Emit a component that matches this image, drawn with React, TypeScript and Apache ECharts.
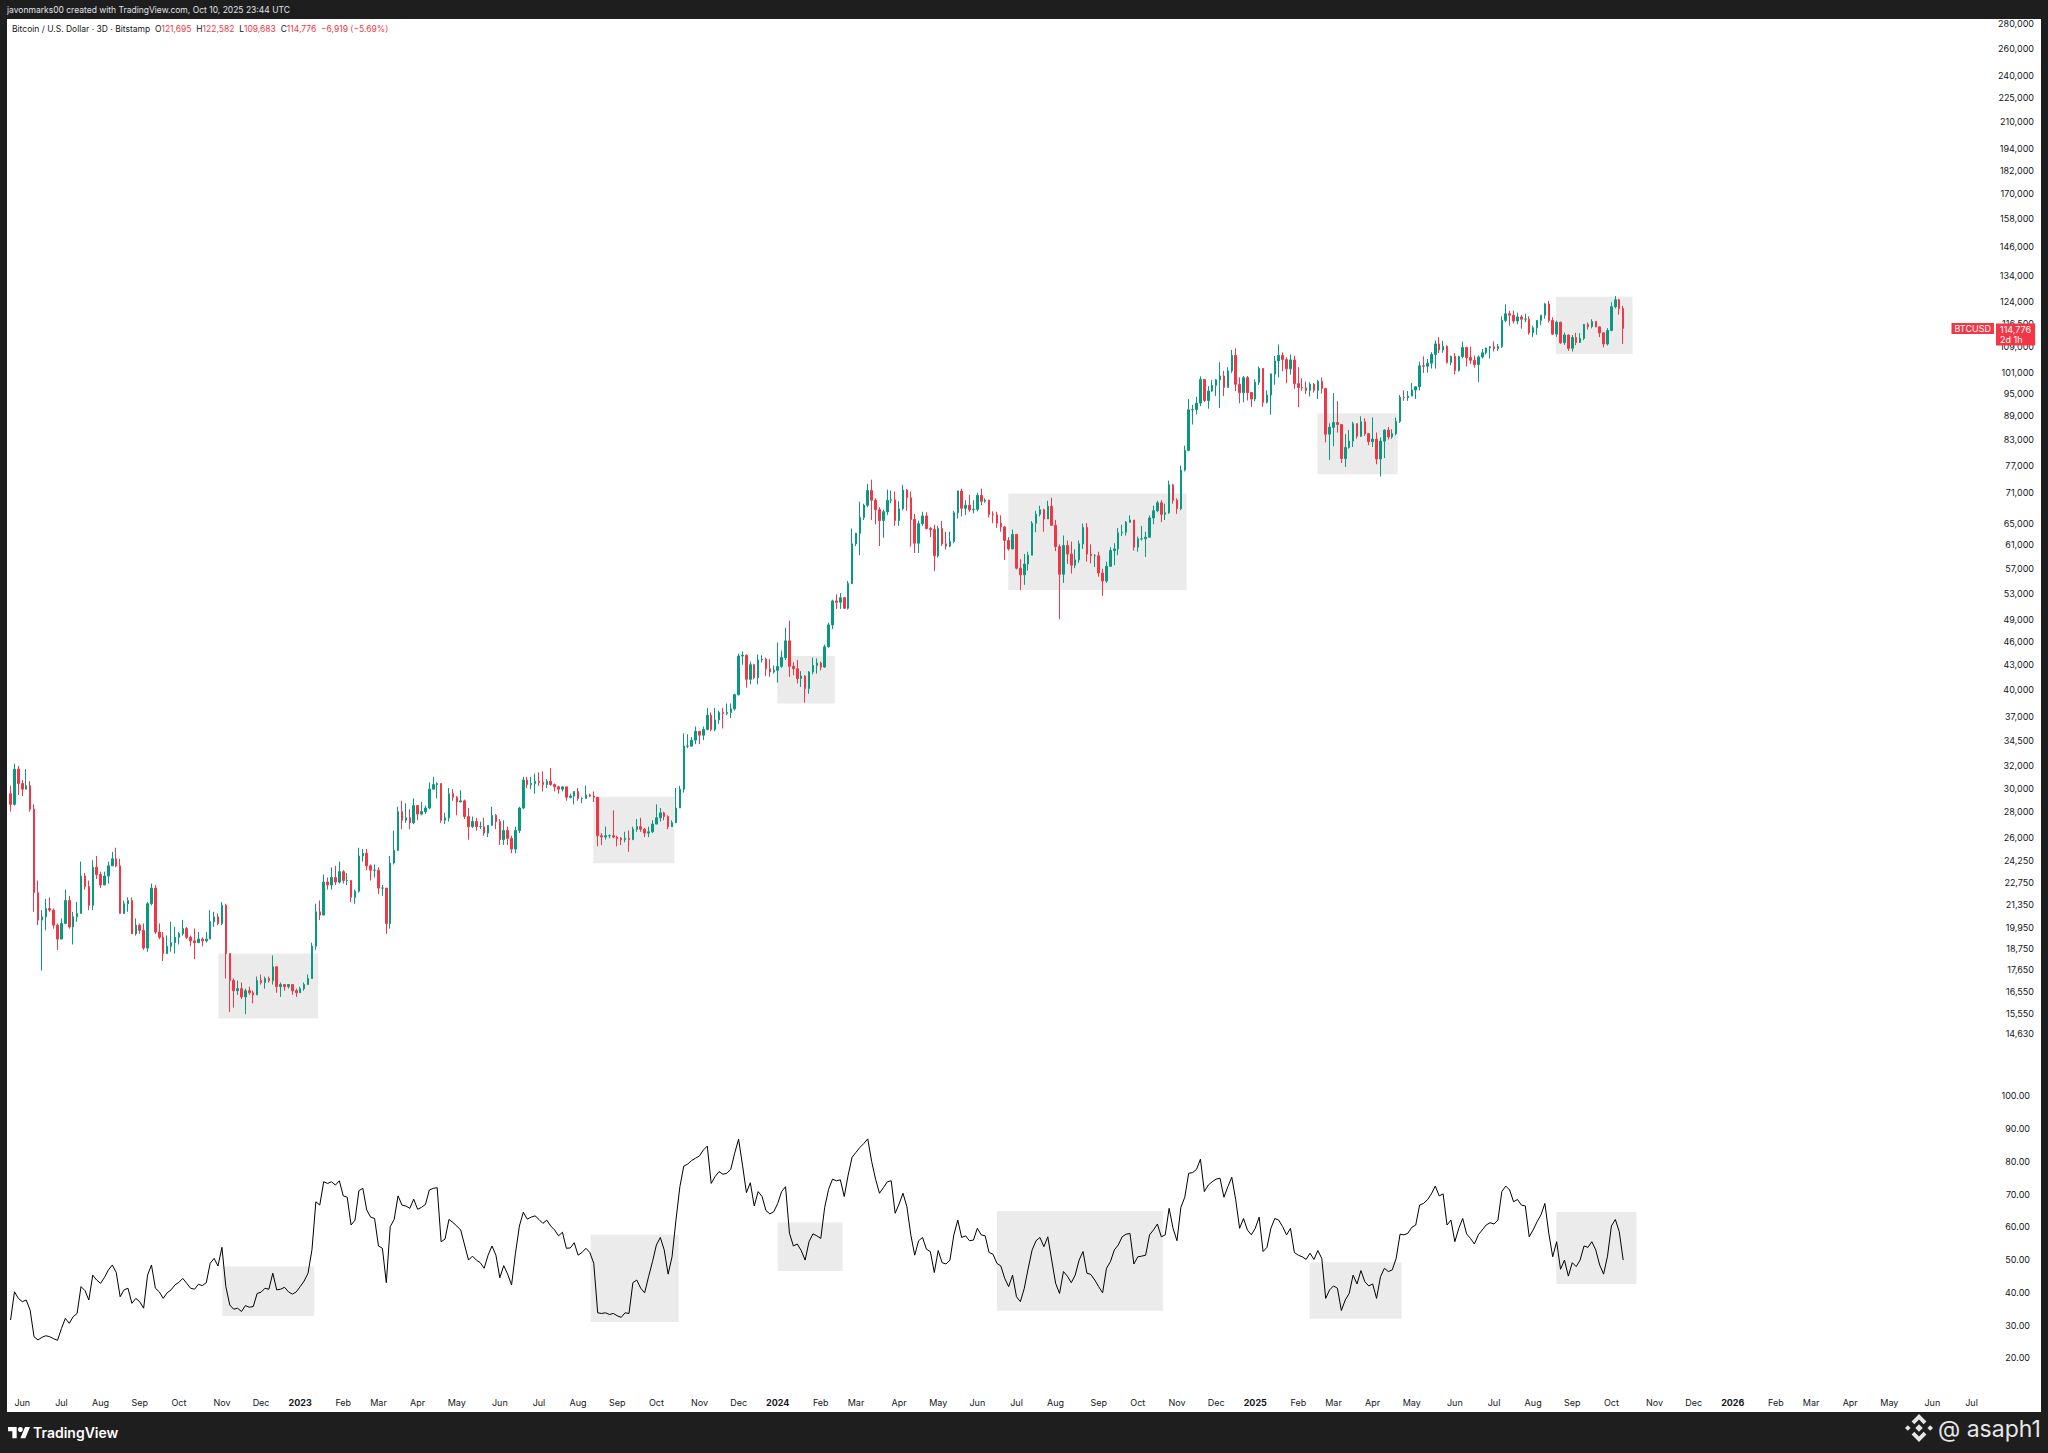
import React, { useEffect, useRef } from 'react';
import * as echarts from 'echarts';

const FONT = 'Inter, Roboto, "Noto Sans", sans-serif';
const UP = '#089981';
const DOWN = '#f23645';
const TEXT = '#131722';

echarts.graphic.registerShape(
  'tvlogo',
  echarts.graphic.extendPath('M14 22H7V11H0V4h14v18zM28 22h-8l7.5-18h8L28 22z', {})
);

// ---- data (prices in thousand USD, one bar = 3 days, bar 0 = 3 Jun 2022) ----
const FIRST_BAR = -3;
const FIRST_OPEN = 29.5;

// [close, high, low]
const bars2022 = [
  [28.6, 30.2, 28.0], [31.7, 32.2, 28.5], [30.4, 32.0, 29.4], [29.9, 30.7, 29.3], [30.2, 31.7, 29.9],
  [28.2, 30.6, 28.0], [22.1, 28.6, 20.9], [20.4, 22.9, 20.1], [20.6, 21.0, 17.6], [21.1, 21.7, 19.8],
  [21.0, 21.8, 20.9], [20.1, 21.1, 19.9], [19.3, 20.2, 18.7], [20.2, 20.5, 19.3], [21.6, 22.3, 20.2],
  [20.0, 21.9, 19.9], [20.6, 20.9, 19.0], [20.8, 21.5, 20.3], [23.2, 24.2, 20.8], [22.5, 23.4, 22.3],
  [21.3, 22.9, 21.0], [23.8, 24.3, 21.0], [23.3, 24.6, 23.0], [22.6, 23.5, 22.4], [23.2, 23.5, 22.6],
  [23.9, 24.2, 22.7], [24.4, 24.9, 23.9], [23.9, 25.2, 23.8], [20.8, 24.4, 20.8], [21.4, 21.6, 20.8],
  [21.6, 21.8, 20.9], [19.6, 21.8, 19.6], [20.1, 20.5, 19.5], [19.8, 20.2, 19.6], [18.8, 20.2, 18.7],
  [21.4, 21.5, 18.6], [22.4, 22.7, 21.3], [19.7, 22.6, 19.6], [19.4, 20.2, 19.3], [18.5, 19.7, 18.1],
  [18.9, 19.5, 18.5], [19.1, 20.3, 18.6], [19.4, 20.0, 18.5], [19.6, 19.7, 19.0], [19.9, 20.4, 19.5],
  [19.4, 20.0, 19.3], [19.2, 19.5, 18.9], [19.1, 19.9, 18.2], [19.3, 19.7, 19.1], [19.2, 19.4, 18.9],
  [19.3, 19.7, 19.1], [20.3, 21.0, 19.3], [20.6, 20.9, 20.0], [20.2, 20.8, 20.1], [21.3, 21.5, 20.1],
  [18.5, 21.4, 17.2], [17.1, 18.5, 15.6], [16.6, 17.2, 15.8], [16.7, 17.1, 16.4], [16.3, 17.0, 16.2],
  [16.6, 16.7, 15.5], [16.5, 16.8, 16.4], [16.4, 16.6, 16.0], [17.1, 17.3, 16.4], [17.0, 17.4, 16.9],
  [17.2, 17.3, 16.7], [17.1, 17.3, 17.0], [17.8, 18.4, 16.9], [16.8, 17.8, 16.5], [16.9, 17.0, 16.3],
  [16.8, 16.9, 16.6], [16.9, 16.9, 16.7], [16.6, 16.9, 16.4], [16.5, 16.7, 16.3],
];

const bars2023 = [
  [16.7, 16.8, 16.5], [16.9, 17.0, 16.6], [17.2, 17.4, 16.9], [18.9, 19.1, 17.2], [20.9, 21.4, 18.7],
  [20.7, 21.6, 20.4], [22.8, 23.3, 20.7], [22.6, 23.1, 22.3], [23.1, 23.8, 22.3], [22.8, 23.9, 22.6],
  [23.5, 24.2, 22.7], [22.9, 23.6, 22.7], [22.9, 23.4, 22.6], [21.8, 22.9, 21.5], [22.2, 22.3, 21.4],
  [24.6, 25.2, 22.1], [24.8, 25.1, 24.2], [23.9, 25.1, 23.6], [23.6, 24.0, 22.9], [23.6, 24.0, 23.1],
  [22.4, 23.8, 22.0], [22.4, 22.6, 21.9], [20.2, 22.4, 19.6], [24.1, 24.6, 19.9], [25.0, 26.5, 24.0],
  [28.0, 28.4, 25.0], [27.3, 28.9, 26.6], [27.5, 28.7, 27.1], [27.1, 28.2, 26.6], [28.5, 29.1, 27.0],
  [27.8, 28.5, 27.3], [28.0, 28.8, 27.7], [28.3, 28.5, 27.8], [29.9, 30.5, 28.2], [30.3, 31.0, 29.9],
  [30.4, 30.5, 29.1], [27.3, 30.4, 27.1], [27.5, 27.9, 27.0], [29.5, 30.0, 27.2], [29.2, 29.9, 28.9],
  [28.8, 29.3, 27.7], [28.9, 29.8, 28.8], [27.6, 29.0, 27.4], [26.8, 28.3, 25.8], [27.2, 27.6, 26.7],
  [26.8, 27.5, 26.5], [26.8, 27.2, 26.6], [26.3, 27.5, 26.1], [26.9, 26.9, 26.0], [27.7, 28.4, 26.9],
  [27.2, 27.8, 26.6], [25.8, 27.4, 25.4], [26.5, 27.3, 25.4], [25.9, 26.8, 25.4], [25.1, 26.1, 24.8],
  [26.5, 26.8, 24.8], [28.3, 28.4, 26.3], [30.7, 31.0, 28.2], [30.3, 31.0, 30.0], [30.4, 31.0, 29.9],
  [30.6, 31.3, 29.5], [30.5, 31.4, 30.2], [30.3, 31.5, 29.7], [30.6, 30.8, 30.0], [30.3, 31.8, 30.2],
  [30.1, 30.4, 29.7], [29.9, 30.2, 29.5], [30.1, 30.1, 29.7], [29.2, 30.1, 28.9], [29.3, 29.5, 29.1],
  [29.7, 29.7, 28.6], [29.1, 30.0, 28.9], [29.1, 29.2, 28.7], [29.4, 30.2, 29.1], [29.3, 29.5, 29.2],
  [29.2, 29.7, 28.8], [26.1, 29.2, 25.3], [26.0, 26.3, 25.4], [26.1, 26.8, 25.8], [26.1, 26.2, 25.9],
  [26.0, 28.1, 25.9], [25.9, 26.1, 25.3], [25.8, 26.0, 25.4], [25.9, 26.4, 25.6], [25.8, 26.5, 24.9],
  [26.6, 26.8, 25.8], [26.8, 27.4, 26.4], [26.6, 27.5, 26.4], [26.3, 26.7, 26.0], [26.4, 26.8, 26.0],
  [27.0, 27.3, 26.3], [27.5, 28.6, 27.0], [27.9, 28.3, 27.2], [27.6, 28.0, 27.3], [26.8, 27.7, 26.6],
  [27.1, 27.3, 26.8], [28.3, 30.0, 27.1], [29.9, 30.2, 28.3], [33.9, 35.2, 29.6], [33.9, 35.1, 33.7],
  [34.5, 34.8, 33.9], [35.4, 35.9, 34.1], [35.0, 35.4, 34.1], [35.6, 35.9, 34.5], [37.1, 37.9, 35.5],
  [35.6, 37.4, 35.4], [36.6, 37.9, 35.4], [37.4, 37.6, 36.2], [37.3, 37.9, 35.7], [37.4, 38.4, 37.1],
  [37.8, 38.4, 36.8], [39.4, 39.5, 37.6], [44.1, 44.4, 39.3], [44.2, 44.7, 43.0], [41.2, 44.3, 40.2],
  [43.0, 43.4, 40.6], [41.4, 43.1, 41.2], [43.6, 44.3, 40.6], [43.7, 44.2, 43.3], [42.5, 43.9, 41.6],
  [42.1, 43.7, 41.5], [42.3, 42.9, 41.9],
];

const bars2024 = [
  [42.8, 45.9, 40.8], [43.9, 44.8, 42.6], [46.1, 47.9, 43.6], [42.8, 48.9, 41.5], [42.5, 43.3, 41.7],
  [41.3, 43.6, 40.7], [41.6, 42.2, 40.3], [40.1, 41.7, 38.5], [42.1, 42.2, 39.5], [42.9, 43.9, 41.8],
  [43.2, 43.8, 41.9], [42.7, 43.4, 42.3], [45.3, 45.6, 42.6], [48.3, 48.6, 45.2], [51.8, 52.0, 47.7],
  [51.6, 52.8, 50.6], [52.3, 53.0, 50.6], [50.7, 52.4, 50.6], [54.5, 54.9, 50.5], [61.2, 64.0, 54.4],
  [63.1, 63.2, 60.8], [66.1, 69.2, 59.2], [68.5, 68.8, 65.6], [71.5, 72.9, 68.1], [69.5, 73.8, 65.6],
  [67.6, 69.9, 64.8], [65.5, 68.1, 60.8], [67.2, 67.6, 62.3], [69.5, 71.7, 66.6], [69.6, 71.5, 68.9],
  [65.5, 71.3, 64.5], [67.8, 69.3, 64.5], [71.6, 72.7, 67.5], [70.0, 71.8, 67.4], [65.7, 71.3, 60.7],
  [61.3, 66.8, 59.6], [64.9, 65.5, 59.6], [66.4, 67.2, 64.5], [64.0, 67.1, 63.8], [63.8, 64.3, 62.4],
  [59.1, 64.7, 56.5], [64.0, 64.5, 58.8], [61.2, 65.4, 60.8], [60.8, 63.4, 60.2], [61.6, 63.4, 60.6],
  [67.0, 67.4, 61.3], [71.4, 71.5, 65.9], [67.9, 71.9, 66.3], [68.5, 69.5, 66.6], [67.6, 70.6, 67.2],
  [67.7, 69.5, 66.9], [70.5, 71.0, 67.3], [69.3, 71.9, 68.5], [69.5, 69.9, 69.0], [66.7, 69.6, 66.1],
  [66.6, 67.3, 65.0], [65.0, 67.2, 64.1], [64.3, 66.5, 63.4], [61.8, 64.5, 58.4], [60.3, 62.4, 60.0],
  [62.9, 63.8, 60.3], [57.0, 63.0, 56.8], [55.9, 58.5, 53.5], [57.7, 59.4, 54.3], [59.2, 59.8, 56.6],
  [65.0, 65.4, 59.2], [66.7, 67.4, 63.3], [67.6, 68.4, 66.3], [65.8, 67.8, 63.4], [68.3, 69.4, 65.8],
  [64.6, 70.0, 64.5], [60.7, 65.6, 59.9], [56.0, 61.1, 49.1], [60.9, 62.7, 54.6], [59.4, 61.8, 57.7],
  [57.5, 61.6, 56.1], [58.4, 60.2, 57.0], [61.2, 61.8, 57.9], [64.2, 64.9, 60.3], [59.4, 65.0, 58.1],
  [59.1, 61.1, 57.8], [59.1, 59.4, 57.2], [56.2, 59.8, 55.6], [54.9, 56.9, 52.6], [57.3, 58.1, 54.6],
  [60.0, 60.6, 57.4], [60.3, 61.3, 57.5], [63.2, 64.1, 59.2], [63.3, 64.7, 62.6], [65.2, 65.4, 62.7],
  [65.6, 66.5, 65.1], [60.6, 65.6, 60.0], [62.1, 62.5, 59.8], [62.1, 64.5, 61.8], [62.4, 63.4, 58.9],
  [66.0, 66.5, 62.3], [67.4, 68.4, 64.8], [69.0, 69.4, 67.1], [66.7, 69.5, 65.2], [67.0, 68.8, 65.6],
  [72.7, 73.6, 66.8], [69.5, 72.9, 68.8], [67.8, 69.9, 66.8], [75.9, 76.9, 67.5], [80.4, 81.5, 75.6],
  [90.5, 93.4, 80.2], [90.6, 91.8, 86.7], [92.3, 94.0, 89.3], [98.9, 99.8, 91.5], [93.0, 98.9, 92.6],
  [95.6, 97.0, 90.8], [97.2, 98.7, 95.4], [98.8, 99.0, 94.2], [99.9, 104.0, 91.0], [96.6, 101.4, 94.2],
  [101.4, 102.5, 96.6], [106.1, 107.8, 100.8], [97.5, 108.3, 95.6], [95.1, 99.5, 92.2], [99.4, 99.9, 92.5],
  [95.2, 99.9, 93.0], [93.4, 95.3, 91.3],
];

const bars2025 = [
  [98.1, 98.9, 92.8], [102.1, 102.7, 97.3], [92.5, 102.2, 91.3], [94.5, 95.8, 92.2], [100.5, 100.7, 89.2],
  [104.4, 105.9, 97.4], [106.1, 109.5, 99.5], [104.8, 107.0, 101.3], [102.0, 105.5, 97.8], [104.7, 106.4, 100.3],
  [97.7, 106.0, 96.2], [96.6, 102.5, 91.2], [96.5, 99.2, 95.7], [95.8, 98.3, 94.8], [97.5, 98.1, 94.1],
  [95.8, 97.9, 95.2], [98.3, 98.8, 93.4], [96.3, 99.5, 94.9], [84.3, 96.5, 82.3], [86.0, 87.0, 78.2],
  [87.2, 95.0, 81.4], [86.7, 92.8, 84.7], [78.5, 86.8, 77.5], [81.1, 84.3, 76.6], [82.6, 85.3, 80.8],
  [86.9, 87.4, 81.2], [83.8, 87.0, 83.2], [87.4, 88.8, 83.6], [84.4, 88.3, 83.9], [82.5, 84.6, 81.6],
  [83.1, 88.5, 81.2], [78.4, 84.7, 77.2], [82.6, 83.5, 74.5], [85.3, 85.5, 78.6], [83.6, 86.1, 83.0],
  [84.4, 85.5, 83.2], [87.5, 88.5, 84.0], [93.9, 94.5, 87.1], [93.8, 95.8, 92.9], [94.2, 95.6, 92.9],
  [95.9, 97.9, 94.2], [96.8, 96.9, 93.4], [102.9, 104.1, 95.8], [102.8, 105.8, 100.8], [103.7, 105.0, 100.9],
  [106.4, 107.1, 102.1], [109.7, 110.8, 102.1], [107.8, 111.9, 106.8], [108.9, 110.7, 106.9], [103.9, 109.3, 103.6],
  [105.8, 106.0, 103.1], [101.5, 106.8, 100.4], [105.7, 106.0, 101.2], [108.6, 110.4, 105.2], [105.4, 108.8, 102.7],
  [104.6, 108.9, 103.5], [103.3, 106.0, 102.4], [105.6, 106.1, 98.2], [106.9, 108.1, 105.1], [108.4, 108.5, 106.4],
  [108.8, 109.0, 105.1], [108.2, 110.5, 107.3], [108.9, 109.7, 107.5], [117.5, 118.9, 108.4], [119.8, 123.2, 116.9],
  [119.3, 120.8, 115.7], [117.3, 120.9, 116.5], [118.7, 120.2, 116.2], [117.9, 119.4, 114.7], [117.9, 119.8, 116.9],
  [113.3, 118.9, 112.7], [115.0, 115.7, 111.9], [117.5, 117.6, 112.7], [119.3, 119.3, 115.9], [123.3, 123.7, 118.1],
  [117.5, 124.4, 116.8], [112.9, 118.6, 112.6], [116.9, 117.4, 112.0], [110.1, 117.0, 109.7], [112.6, 113.4, 109.4],
  [108.3, 112.7, 107.5], [111.8, 112.6, 107.3], [110.2, 113.3, 109.3], [111.5, 113.2, 110.0], [116.1, 116.3, 110.9],
  [115.4, 116.8, 114.4], [117.1, 117.9, 114.8], [115.3, 117.2, 115.2], [113.3, 115.4, 111.9], [109.7, 113.6, 108.6],
  [114.1, 114.9, 109.2], [122.3, 123.9, 113.9], [124.8, 126.2, 121.7], [121.695, 125.1, 119.5], [114.776, 122.582, 109.683],
];

// RSI(14) per bar
const rsi2022 = [
  31.6, 40.2, 38.2, 37.2, 37.7, 34.6, 26.5, 25.5, 26.3, 26.8,
  26.5, 25.9, 25.4, 29.0, 32.1, 30.6, 32.6, 33.6, 41.8, 40.6,
  37.7, 45.3, 43.8, 42.8, 44.6, 46.9, 48.4, 46.1, 38.7, 40.8,
  41.3, 36.7, 38.2, 37.2, 35.2, 45.3, 48.4, 41.3, 40.2, 38.2,
  39.9, 40.8, 42.3, 43.1, 44.3, 42.8, 41.3, 41.0, 42.5, 42.1,
  43.0, 48.9, 50.4, 48.1, 53.8, 41.8, 36.2, 34.9, 35.2, 34.2,
  36.0, 35.5, 35.7, 39.7, 40.1, 41.3, 41.0, 45.9, 40.8, 41.0,
  41.6, 40.2, 39.5, 40.2,
];
const rsi2023 = [
  41.8, 43.5, 45.9, 53.0, 67.7, 66.7, 73.8, 73.3, 73.8, 72.8,
  74.1, 69.5, 69.1, 60.6, 62.1, 71.1, 71.8, 65.2, 63.0, 62.6,
  54.2, 53.5, 43.0, 60.1, 62.3, 69.5, 66.7, 66.4, 65.7, 68.5,
  65.4, 66.0, 66.9, 71.3, 71.8, 72.0, 55.5, 56.3, 62.3, 61.4,
  60.3, 59.1, 54.5, 49.9, 51.1, 49.9, 49.1, 47.4, 51.4, 54.2,
  51.4, 44.5, 48.2, 45.6, 42.3, 52.0, 60.3, 64.5, 62.4, 63.0,
  63.4, 62.3, 61.1, 62.1, 60.3, 59.1, 57.3, 58.4, 53.5, 53.6,
  55.2, 51.4, 52.2, 53.5, 52.2, 48.9, 33.8, 33.6, 33.8, 33.3,
  33.6, 32.9, 32.4, 33.8, 33.6, 43.0, 43.8, 41.3, 39.9, 44.8,
  49.4, 54.5, 56.8, 53.0, 45.6, 50.9, 62.1, 72.3, 78.6, 79.2,
  80.3, 81.0, 81.7, 83.5, 84.7, 73.3, 75.4, 76.9, 76.1, 76.4,
  77.6, 82.5, 86.8, 78.9, 70.5, 73.5, 66.4, 70.8, 69.3, 65.0,
  64.0, 64.7,
];
const rsi2024 = [
  67.2, 70.8, 72.3, 58.1, 54.2, 54.8, 52.8, 49.9, 55.5, 57.9,
  57.3, 56.5, 66.0, 71.5, 74.6, 74.1, 74.4, 69.3, 75.9, 81.3,
  82.8, 84.3, 85.5, 86.9, 80.0, 74.6, 70.3, 72.0, 73.8, 74.1,
  64.2, 67.0, 70.3, 66.2, 57.6, 51.4, 55.8, 56.8, 53.2, 52.5,
  46.1, 52.8, 49.1, 48.7, 49.9, 57.6, 62.1, 56.8, 57.3, 55.8,
  56.0, 59.6, 57.6, 57.3, 52.2, 51.7, 48.9, 48.1, 44.3, 41.8,
  45.3, 38.7, 37.2, 41.3, 47.4, 53.0, 55.8, 56.8, 54.0, 57.0,
  49.9, 42.8, 39.7, 46.4, 45.0, 43.0, 45.3, 49.9, 52.5, 45.9,
  45.5, 43.8, 41.8, 39.9, 47.4, 49.4, 53.0, 54.5, 57.0, 57.8,
  58.0, 48.7, 50.9, 51.1, 51.4, 57.6, 59.1, 60.9, 57.0, 57.6,
  65.7, 59.6, 55.8, 66.0, 69.1, 76.4, 76.6, 77.6, 80.7, 70.8,
  72.8, 73.8, 74.6, 74.9, 69.1, 72.3, 75.2, 68.4, 59.6, 62.6,
  59.1, 57.6,
];
const rsi2025 = [
  59.6, 63.0, 52.5, 53.8, 59.6, 62.6, 62.1, 60.1, 57.6, 59.6,
  52.2, 51.4, 50.9, 50.1, 52.0, 50.1, 52.8, 50.4, 38.2, 40.8,
  42.0, 41.3, 34.5, 37.7, 39.7, 45.3, 42.6, 46.7, 43.3, 42.0,
  42.6, 38.2, 44.8, 47.4, 46.4, 46.9, 50.4, 57.8, 57.6, 58.1,
  59.9, 60.6, 66.7, 67.2, 68.3, 70.1, 72.5, 69.5, 70.1, 60.6,
  62.1, 55.5, 59.6, 62.6, 57.9, 56.5, 54.8, 57.6, 59.1, 60.6,
  61.3, 60.9, 62.1, 70.8, 72.5, 71.3, 67.7, 68.4, 66.7, 66.4,
  57.0, 59.1, 61.6, 63.7, 67.2, 58.1, 50.9, 55.5, 47.1, 49.9,
  45.0, 49.1, 47.9, 49.9, 54.2, 53.8, 55.5, 53.0, 48.4, 45.6,
  51.1, 60.3, 62.3, 58.6, 49.9,
];

// shaded zones: [fromBar, toBar, top, bottom]
const priceBoxes = [
  [50.1, 75.6, 18.51, 15.31],
  [145.9, 166.6, 29.25, 24.08],
  [192.9, 207.6, 44.1, 38.4],
  [251.9, 297.5, 70.9, 53.5],
  [330.9, 351.4, 89.6, 75.0],
  [391.8, 411.4, 125.9, 106.5],
];
const rsiBoxes = [
  [51.1, 74.6, 47.9, 32.8],
  [145.2, 167.7, 57.6, 31.0],
  [193.0, 209.6, 61.4, 46.6],
  [249.0, 291.4, 64.9, 34.4],
  [328.9, 352.4, 49.2, 32.0],
  [391.9, 412.4, 64.6, 42.6],
];

const priceTicks = [
  280, 260, 240, 225, 210, 194, 182, 170, 158, 146, 134, 124, 116.5, 109, 101, 95, 89, 83, 77, 71,
  65, 61, 57, 53, 49, 46, 43, 40, 37, 34.5, 32, 30, 28, 26, 24.25, 22.75, 21.35, 19.95, 18.75,
  17.65, 16.55, 15.55, 14.63,
];
const rsiTicks = [20, 30, 40, 50, 60, 70, 80, 90, 100];

const monthLabels = [
  'Jun', 'Jul', 'Aug', 'Sep', 'Oct', 'Nov', 'Dec',
  '2023', 'Feb', 'Mar', 'Apr', 'May', 'Jun', 'Jul', 'Aug', 'Sep', 'Oct', 'Nov', 'Dec',
  '2024', 'Feb', 'Mar', 'Apr', 'May', 'Jun', 'Jul', 'Aug', 'Sep', 'Oct', 'Nov', 'Dec',
  '2025', 'Feb', 'Mar', 'Apr', 'May', 'Jun', 'Jul', 'Aug', 'Sep', 'Oct', 'Nov', 'Dec',
  '2026', 'Feb', 'Mar', 'Apr', 'May', 'Jun', 'Jul',
];
const monthBars = [
  0, 10, 20, 30, 40, 51, 61,
  71, 82, 91, 101, 111, 122, 132, 142, 152, 162, 173, 183,
  193, 204, 213, 224, 234, 244, 254, 264, 275, 285, 295, 305,
  315, 326, 335, 345, 355, 366, 376, 386, 396, 406, 417, 427,
  437, 448, 457, 467, 477, 488, 498,
];

const LAST_PRICE = 114.776;

const X_MIN = -3.91;
const X_MAX = 504.0;
const Y_MIN = 2.5545;
const Y_MAX = 5.64647;
const RSI_MIN = 10.84;
const RSI_MAX = 104.27;

function buildOption() {
  const bars = [...bars2022, ...bars2023, ...bars2024, ...bars2025];
  const rsi = [...rsi2022, ...rsi2023, ...rsi2024, ...rsi2025];
  let prevClose = FIRST_OPEN;
  const candles = bars.map(([c, h, l], k) => {
    const o = prevClose;
    prevClose = c;
    return [
      FIRST_BAR + k,
      Math.log(o),
      Math.log(c),
      Math.log(Math.min(l, o, c)),
      Math.log(Math.max(h, o, c)),
    ];
  });
  const rsiData = rsi.map((v, k) => [FIRST_BAR + k, v]);
  const labelByBar = new Map<number, string>();
  monthBars.forEach((b, k) => labelByBar.set(b, monthLabels[k]));

  const boxStyle = { color: 'rgba(0,0,0,0.08)' };

  const bx = 1919;
  const by = 1428;
  const bs = 14;
  const bin = (pts: number[][]) => pts.map(([a, b]) => [bx + a * bs, by + b * bs]);
  const binanceParts = [
    [[0, -1], [0.53, -0.47], [0.33, -0.27], [0, -0.6], [-0.33, -0.27], [-0.53, -0.47]],
    [[0, 1], [0.53, 0.47], [0.33, 0.27], [0, 0.6], [-0.33, 0.27], [-0.53, 0.47]],
    [[0, -0.27], [0.27, 0], [0, 0.27], [-0.27, 0]],
    [[-1, 0], [-0.8, -0.2], [-0.6, 0], [-0.8, 0.2]],
    [[1, 0], [0.8, -0.2], [0.6, 0], [0.8, 0.2]],
  ];

  return {
    animation: false,
    backgroundColor: 'transparent',
    textStyle: { fontFamily: FONT },
    grid: [
      { left: 7, top: 19, width: 1988, height: 1059 },
      { left: 7, top: 1082, width: 1988, height: 306 },
    ],
    xAxis: [
      { type: 'value', gridIndex: 0, min: X_MIN, max: X_MAX, show: false },
      {
        type: 'value',
        gridIndex: 1,
        min: X_MIN,
        max: X_MAX,
        axisLine: { show: false },
        axisTick: { show: false },
        splitLine: { show: false },
        axisLabel: {
          customValues: monthBars,
          margin: 10,
          fontSize: 9,
          color: TEXT,
          fontFamily: FONT,
          formatter: (v: number) => {
            const s = labelByBar.get(Math.round(v)) || '';
            return /^\d{4}$/.test(s) ? `{y|${s}}` : s;
          },
          rich: { y: { fontWeight: 'bold', fontSize: 9, color: TEXT, fontFamily: FONT } },
        },
      },
    ],
    yAxis: [
      {
        type: 'value',
        gridIndex: 0,
        position: 'right',
        min: Y_MIN,
        max: Y_MAX,
        axisLine: { show: false },
        axisTick: { show: false },
        splitLine: { show: false },
        axisLabel: {
          customValues: priceTicks.map((p) => Math.log(p)),
          formatter: (v: number) => Math.round(Math.exp(v) * 1000).toLocaleString('en-US'),
          align: 'right',
          margin: 39,
          fontSize: 9,
          color: TEXT,
          fontFamily: FONT,
        },
      },
      {
        type: 'value',
        gridIndex: 1,
        position: 'right',
        min: RSI_MIN,
        max: RSI_MAX,
        axisLine: { show: false },
        axisTick: { show: false },
        splitLine: { show: false },
        axisLabel: {
          customValues: rsiTicks,
          formatter: (v: number) => v.toFixed(2),
          align: 'right',
          margin: 35,
          fontSize: 9,
          color: TEXT,
          fontFamily: FONT,
        },
      },
    ],
    series: [
      {
        type: 'candlestick',
        name: 'BTCUSD',
        xAxisIndex: 0,
        yAxisIndex: 0,
        barWidth: 2,
        data: candles,
        itemStyle: {
          color: UP,
          color0: DOWN,
          borderColor: UP,
          borderColor0: DOWN,
          borderWidth: 1,
        },
        markArea: {
          silent: true,
          itemStyle: boxStyle,
          data: priceBoxes.map(([a, b, t, d]) => [
            { coord: [a, Math.log(t)] },
            { coord: [b, Math.log(d)] },
          ]),
        },
        markLine: {
          silent: true,
          symbol: ['none', 'none'],
          lineStyle: { color: 'rgba(0,0,0,0)', width: 1, type: 'solid' },
          label: {
            show: true,
            position: 'end',
            distance: 1,
            offset: [0, 5],
            formatter: `${Math.round(LAST_PRICE * 1000).toLocaleString('en-US')}\n2d 1h`,
            backgroundColor: DOWN,
            color: '#fff',
            opacity: 1,
            padding: [1, 4, 1, 4],
            fontSize: 9,
            lineHeight: 10,
            fontFamily: FONT,
          },
          data: [{ yAxis: Math.log(LAST_PRICE) }],
        },
        markPoint: {
          silent: true,
          symbol: 'rect',
          symbolSize: 0,
          label: {
            position: 'left',
            distance: 1,
            formatter: 'BTCUSD',
            backgroundColor: DOWN,
            color: '#fff',
            padding: [1, 3, 1, 3],
            fontSize: 9,
            fontFamily: FONT,
          },
          data: [{ coord: [X_MAX - 0.01, Math.log(LAST_PRICE)] }],
        },
      },
      {
        type: 'line',
        name: 'RSI',
        xAxisIndex: 1,
        yAxisIndex: 1,
        data: rsiData,
        showSymbol: false,
        symbol: 'none',
        lineStyle: { color: '#000', width: 1 },
        markArea: {
          silent: true,
          itemStyle: boxStyle,
          data: rsiBoxes.map(([a, b, t, d]) => [{ coord: [a, t] }, { coord: [b, d] }]),
        },
      },
    ],
    graphic: [
      {
        type: 'text',
        x: 7,
        y: 10,
        style: {
          text: 'javonmarks00 created with TradingView.com, Oct 10, 2025 23:44 UTC',
          fill: '#e0e3eb',
          fontSize: 8.5,
          fontFamily: FONT,
          verticalAlign: 'middle',
        },
      },
      {
        type: 'text',
        x: 12,
        y: 29,
        style: {
          text:
            '{d|Bitcoin / U.S. Dollar · 3D · Bitstamp}  {d|O}{r|121,695}  {d|H}{r|122,582}  {d|L}{r|109,683}  {d|C}{r|114,776}  {r|−6,919 (−5.69%)}',
          fontSize: 8.5,
          fontFamily: FONT,
          verticalAlign: 'middle',
          fill: TEXT,
          rich: {
            d: { fill: TEXT, fontSize: 8.5, fontFamily: FONT },
            r: { fill: DOWN, fontSize: 8.5, fontFamily: FONT },
          },
        },
      },
      {
        type: 'tvlogo',
        x: 8,
        y: 1424.5,
        scaleX: 0.62,
        scaleY: 0.62,
        style: { fill: '#ffffff' },
      },
      { type: 'circle', shape: { cx: 20.4, cy: 1429.5, r: 2.5 }, style: { fill: '#ffffff' } },
      {
        type: 'text',
        x: 33,
        y: 1432,
        style: {
          text: 'TradingView',
          fill: '#ffffff',
          fontSize: 14,
          fontWeight: 600,
          fontFamily: FONT,
          verticalAlign: 'middle',
        },
      },
      ...binanceParts.map((p) => ({
        type: 'polygon',
        shape: { points: bin(p) },
        style: { fill: '#e6e6e6' },
      })),
      {
        type: 'text',
        x: 1938,
        y: 1429,
        style: {
          text: '@ asaph1',
          fill: '#e6e6e6',
          fontSize: 23,
          fontFamily: FONT,
          verticalAlign: 'middle',
        },
      },
    ],
  };
}

export default function App() {
  const ref = useRef<HTMLDivElement>(null);
  useEffect(() => {
    if (!ref.current) return;
    const chart = echarts.init(ref.current, null, { renderer: 'svg' });
    chart.setOption(buildOption() as any);
    return () => chart.dispose();
  }, []);
  return (
    <div
      style={{
        position: 'fixed',
        left: 0,
        top: 0,
        width: 2048,
        height: 1453,
        background: '#1e1e1e',
        overflow: 'hidden',
      }}
    >
      <div
        style={{
          position: 'absolute',
          left: 7,
          top: 19,
          width: 2034,
          height: 1393,
          background: '#ffffff',
        }}
      />
      <div ref={ref} style={{ position: 'absolute', left: 0, top: 0, width: 2048, height: 1453 }} />
    </div>
  );
}
